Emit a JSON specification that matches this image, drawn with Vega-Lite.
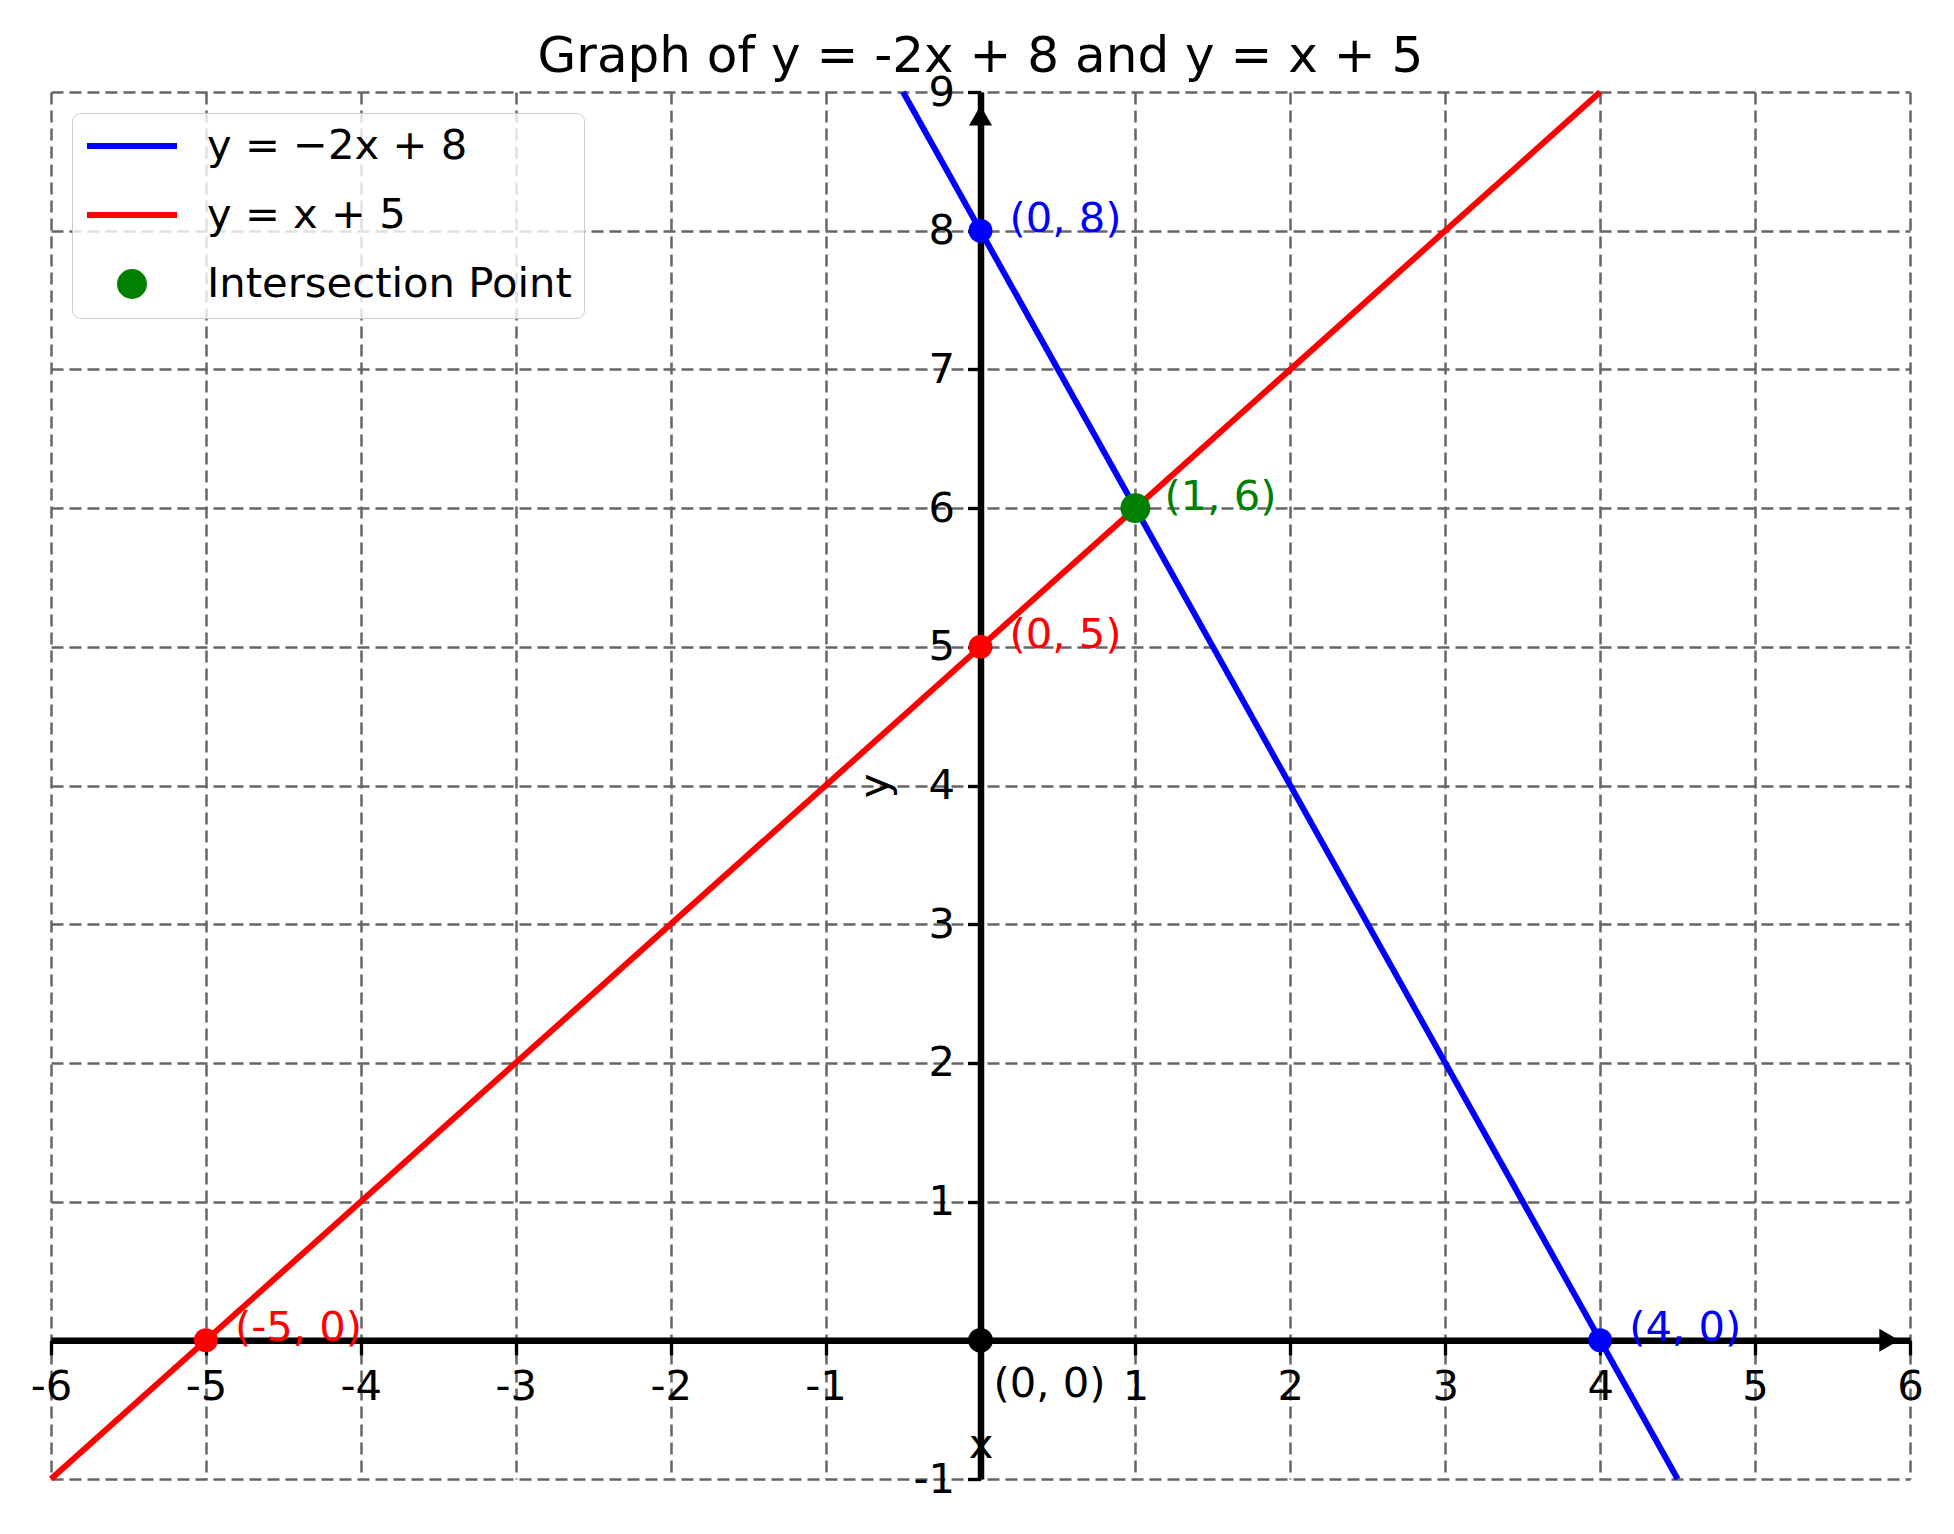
{
  "$schema": "https://vega.github.io/schema/vega-lite/v6.json",
  "width": 1859,
  "height": 1387,
  "autosize": {"type": "none"},
  "padding": {"left": 51, "top": 92, "right": 44, "bottom": 55},
  "background": "white",
  "title": {
    "text": "Graph of y = -2x + 8 and y = x + 5",
    "font": "DejaVu Sans",
    "fontSize": 50,
    "fontWeight": "normal",
    "color": "black",
    "anchor": "middle",
    "frame": "group",
    "baseline": "alphabetic",
    "offset": -50
  },
  "config": {"view": {"stroke": null}, "font": "DejaVu Sans"},
  "datasets": {
    "lines": [
      {"series": "y = −2x + 8", "x": -0.5, "y": 9},
      {"series": "y = −2x + 8", "x": 4.5, "y": -1},
      {"series": "y = x + 5", "x": -6, "y": -1},
      {"series": "y = x + 5", "x": 4, "y": 9}
    ],
    "intercepts": [
      {"series": "y = −2x + 8", "x": 0, "y": 8, "label": "(0, 8)"},
      {"series": "y = −2x + 8", "x": 4, "y": 0, "label": "(4, 0)"},
      {"series": "y = x + 5", "x": 0, "y": 5, "label": "(0, 5)"},
      {"series": "y = x + 5", "x": -5, "y": 0, "label": "(-5, 0)"}
    ],
    "intersection": [
      {"series": "Intersection Point", "x": 1, "y": 6, "label": "(1, 6)"}
    ],
    "origin": [{"x": 0, "y": 0, "label": "(0, 0)"}],
    "xarrow": [{"x": 5.866, "y": 0}],
    "yarrow": [{"x": 0, "y": 8.83}]
  },
  "layer": [
    {
      "data": {"name": "lines"},
      "mark": {"type": "line", "strokeWidth": 6, "strokeCap": "butt"},
      "encoding": {
        "x": {
          "field": "x",
          "type": "quantitative",
          "scale": {"domain": [-6, 6], "nice": false, "zero": false},
          "axis": {
            "title": "x",
            "orient": "bottom",
            "offset": -138.7,
            "values": [-6, -5, -4, -3, -2, -1, 0, 1, 2, 3, 4, 5, 6],
            "grid": true,
            "gridDash": [12, 6],
            "gridColor": "#666666",
            "gridWidth": 2.5,
            "gridOpacity": 1,
            "domainColor": "black",
            "domainWidth": 6.5,
            "tickColor": "black",
            "tickWidth": 3.3,
            "tickSize": 14.6,
            "labelPadding": 12,
            "labelFont": "DejaVu Sans",
            "labelFontSize": 41.7,
            "labelColor": "black",
            "labelFlush": false,
            "labelOverlap": false,
            "labelExpr": "datum.value === 0 ? '' : '' + datum.value",
            "titleFont": "DejaVu Sans",
            "titleFontSize": 41.7,
            "titleFontWeight": "normal",
            "titleColor": "black",
            "titlePadding": 16
          }
        },
        "y": {
          "field": "y",
          "type": "quantitative",
          "scale": {"domain": [-1, 9], "nice": false, "zero": false},
          "axis": {
            "title": "y",
            "orient": "left",
            "offset": -929.5,
            "values": [-1, 0, 1, 2, 3, 4, 5, 6, 7, 8, 9],
            "grid": true,
            "gridDash": [12, 6],
            "gridColor": "#666666",
            "gridWidth": 2.5,
            "gridOpacity": 1,
            "domainColor": "black",
            "domainWidth": 6.5,
            "tickColor": "black",
            "tickWidth": 3.3,
            "tickSize": 13,
            "labelPadding": 13,
            "labelFont": "DejaVu Sans",
            "labelFontSize": 41.7,
            "labelColor": "black",
            "labelFlush": false,
            "labelOverlap": false,
            "labelExpr": "datum.value === 0 ? '' : '' + datum.value",
            "titleFont": "DejaVu Sans",
            "titleFontSize": 41.7,
            "titleFontWeight": "normal",
            "titleColor": "black",
            "titlePadding": 16
          }
        },
        "color": {
          "field": "series",
          "type": "nominal",
          "scale": {
            "domain": ["y = −2x + 8", "y = x + 5", "Intersection Point"],
            "range": ["#0000ff", "#ff0000", "#008000"]
          },
          "legend": {
            "title": null,
            "orient": "top-left",
            "offset": 21,
            "padding": 12,
            "rowPadding": 26,
            "clipHeight": 42,
            "labelFont": "DejaVu Sans",
            "labelFontSize": 41.7,
            "labelColor": "black",
            "labelLimit": 1000,
            "labelOffset": 27,
            "symbolStrokeWidth": 6,
            "symbolOpacity": 1,
            "fillColor": "rgba(255,255,255,0.8)",
            "strokeColor": "#cccccc",
            "cornerRadius": 8
          }
        }
      }
    },
    {
      "data": {"name": "intercepts"},
      "mark": {"type": "point", "filled": true, "size": 573, "opacity": 1, "shape": "circle"},
      "encoding": {
        "x": {"field": "x", "type": "quantitative"},
        "y": {"field": "y", "type": "quantitative"},
        "color": {"field": "series", "type": "nominal"}
      }
    },
    {
      "data": {"name": "intersection"},
      "mark": {"type": "point", "filled": true, "opacity": 1, "stroke": "#008000", "strokeWidth": 6},
      "encoding": {
        "x": {"field": "x", "type": "quantitative"},
        "y": {"field": "y", "type": "quantitative"},
        "color": {"field": "series", "type": "nominal"},
        "shape": {
          "field": "series",
          "type": "nominal",
          "scale": {
            "domain": ["y = −2x + 8", "y = x + 5", "Intersection Point"],
            "range": ["stroke", "stroke", "circle"]
          }
        },
        "size": {
          "field": "series",
          "type": "nominal",
          "scale": {
            "type": "ordinal",
            "domain": ["y = −2x + 8", "y = x + 5", "Intersection Point"],
            "range": [8100, 8100, 573]
          }
        }
      }
    },
    {
      "data": {"name": "origin"},
      "mark": {"type": "point", "filled": true, "size": 615, "opacity": 1, "shape": "circle", "color": "black"},
      "encoding": {
        "x": {"field": "x", "type": "quantitative"},
        "y": {"field": "y", "type": "quantitative"}
      }
    },
    {
      "data": {"name": "xarrow"},
      "mark": {"type": "point", "filled": true, "size": 529, "opacity": 1, "shape": "triangle-right", "color": "black"},
      "encoding": {
        "x": {"field": "x", "type": "quantitative"},
        "y": {"field": "y", "type": "quantitative"}
      }
    },
    {
      "data": {"name": "yarrow"},
      "mark": {"type": "point", "filled": true, "size": 529, "opacity": 1, "shape": "triangle-up", "color": "black"},
      "encoding": {
        "x": {"field": "x", "type": "quantitative"},
        "y": {"field": "y", "type": "quantitative"}
      }
    },
    {
      "data": {"name": "intercepts"},
      "mark": {"type": "text", "align": "left", "baseline": "alphabetic", "dx": 29, "dy": 1, "fontSize": 41.7, "font": "DejaVu Sans"},
      "encoding": {
        "x": {"field": "x", "type": "quantitative"},
        "y": {"field": "y", "type": "quantitative"},
        "text": {"field": "label"},
        "color": {"field": "series", "type": "nominal"}
      }
    },
    {
      "data": {"name": "intersection"},
      "mark": {"type": "text", "align": "left", "baseline": "alphabetic", "dx": 29, "dy": 2, "fontSize": 41.7, "font": "DejaVu Sans"},
      "encoding": {
        "x": {"field": "x", "type": "quantitative"},
        "y": {"field": "y", "type": "quantitative"},
        "text": {"field": "label"},
        "color": {"field": "series", "type": "nominal"}
      }
    },
    {
      "data": {"name": "origin"},
      "mark": {"type": "text", "align": "left", "baseline": "alphabetic", "dx": 13, "dy": 57, "fontSize": 41.7, "font": "DejaVu Sans", "color": "black"},
      "encoding": {
        "x": {"field": "x", "type": "quantitative"},
        "y": {"field": "y", "type": "quantitative"},
        "text": {"field": "label"}
      }
    }
  ]
}
